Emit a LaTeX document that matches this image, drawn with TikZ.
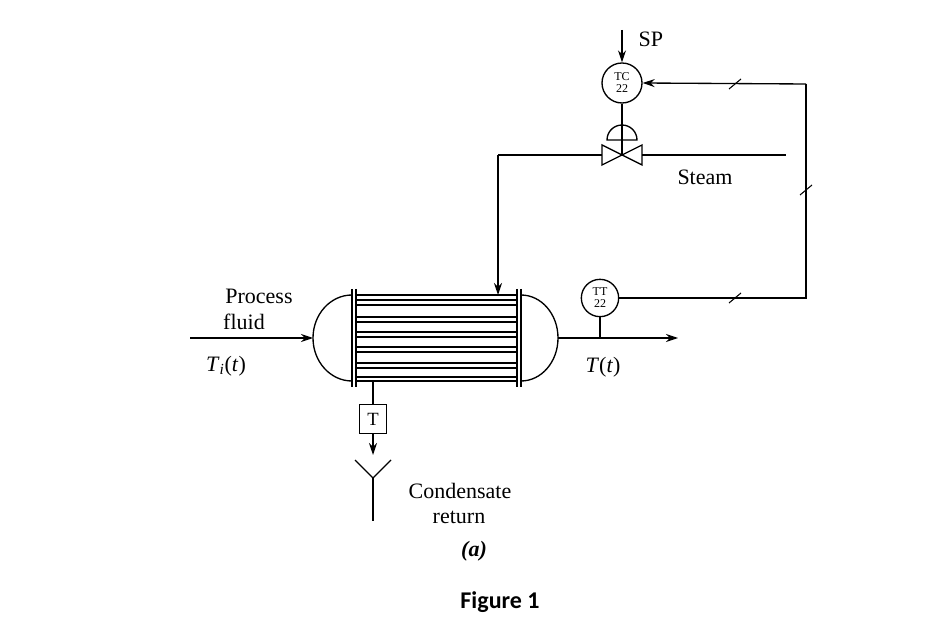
\documentclass[tikz,border=0pt]{standalone}
\usepackage{fontspec}
\setmainfont{Liberation Serif}
\newfontfamily\figfont{Carlito}
\usetikzlibrary{arrows.meta}
\begin{document}
\begin{tikzpicture}[x=0.75pt,y=-0.75pt,line width=1pt,
  lbl/.style={font=\fontsize{16.5}{18}\selectfont,inner sep=0pt},
  inst/.style={circle,draw,minimum size=28pt,inner sep=0pt,align=center,font=\fontsize{9}{9}\selectfont},
  arr/.style={-{Stealth[length=9pt,width=6pt]}},
  slash/.style={line width=0.8pt}]
\useasboundingbox (0,0) rectangle (945,634);
% exchanger
\draw (352,295) arc[start angle=270,end angle=90,x radius=39,y radius=43];
\draw (521,295) arc[start angle=270,end angle=450,x radius=37,y radius=43];
\foreach \x in {352,356,517,521} \draw (\x,289) -- (\x,387);
\foreach \y in {295,300,305,317,322,332,337,347,352,363,368,377,381} \draw (356,\y) -- (517,\y);
\coordinate (inl) at (313,338);
\coordinate (outl) at (558,338);
\coordinate (pin) at (190,338);
\coordinate (pout) at (678,338);
\draw[arr] (pin) -- (inl);
\draw[arr] (outl) -- (pout);
% TT
\node[inst] (TT) at (600,298) {TT\\22};
\draw (TT.south) -- (600,338);
% TC
\node[inst,minimum size=30pt] (TC) at (622,83) {TC\\22};
\coordinate (sp) at (622,30);
\draw[arr] (sp) -- (TC.north);
\node[lbl,anchor=west] (SPl) at (638,39) {SP};
\draw (TT.east) -- (806,298) -- (806,84);
\draw[arr] (806,84) -- (TC.east);
\foreach \p in {(735,298),(806,190),(735,84)} \draw[slash] \p ++(-6,5) -- ++(12,-10);
% valve
\coordinate (v) at (622,155);
\draw (602,145) -- (642,165) -- (642,145) -- (602,165) -- cycle;
\draw (TC.south) -- (622,155);
\draw (607,140) arc[start angle=180,end angle=360,radius=15] -- cycle;
\draw (642,155) -- (786,155);
\draw (602,155) -- (498,155);
\draw[arr] (498,155) -- (498,295);
\node[lbl] (steam) at (705,177) {Steam};
% drain
\node[draw,minimum width=20pt,minimum height=22pt,inner sep=0pt,font=\fontsize{14}{14}\selectfont] (T) at (373,419) {T};
\draw (373,381) -- (T.north);
\draw[arr] (T.south) -- (373,455);
\draw (355,460) -- (373,478) -- (391,460);
\draw (373,478) -- (373,521);
% labels
\node[lbl] (pf) at (259,296) {Process};
\node[lbl] (fl) at (244,322) {fluid};
\node[lbl] (ti) at (226,366) {\textit{T}\textsubscript{\textit{i}}(\textit{t})};
\node[lbl] (to) at (603,367) {\textit{T}(\textit{t})};
\node[lbl] (cd) at (460,491) {Condensate};
\node[lbl] (rt) at (459,517) {return};
\node[lbl] (a) at (474,551) {\textbf{\textit{(a)}}};
\node[inner sep=0pt,font=\figfont\bfseries\fontsize{18}{20}\selectfont] (fig) at (500,602) {Figure 1};
\end{tikzpicture}
\end{document}
